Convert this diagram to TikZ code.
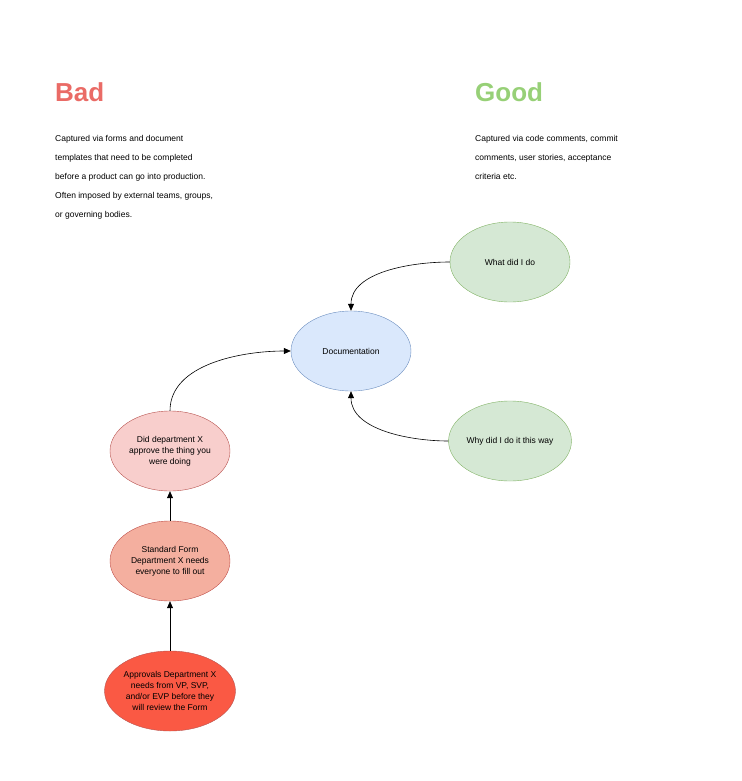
\documentclass[tikz,border=0pt]{standalone}
\usepackage{fontspec}
\setmainfont{Liberation Sans}
\usetikzlibrary{arrows.meta,shapes.geometric}
\definecolor{bfill}{HTML}{DAE8FC}\definecolor{bdraw}{HTML}{6C8EBF}
\definecolor{gfill}{HTML}{D5E8D4}\definecolor{gdraw}{HTML}{82B366}
\definecolor{r1}{HTML}{F8CECC}\definecolor{r1d}{HTML}{B85450}
\definecolor{r2}{HTML}{F4AF9F}\definecolor{r2d}{HTML}{C0504A}
\definecolor{r3}{HTML}{FA5944}\definecolor{r3d}{HTML}{B85450}
\definecolor{badc}{HTML}{EA6B66}\definecolor{goodc}{HTML}{97D077}
\begin{document}
\begin{tikzpicture}[x=1pt,y=-1pt,
 el/.style={ellipse,minimum width=120pt,minimum height=80pt,inner sep=0pt,align=center,font=\fontsize{8.5}{11}\selectfont},
 arr/.style={-{Triangle[length=7pt,width=6pt]},black,line width=0.6pt},
 para/.style={anchor=north west,align=left,font=\fontsize{8.5}{19}\selectfont,inner sep=0pt},
 head/.style={anchor=west,inner sep=0pt,font=\fontsize{26}{30}\selectfont\bfseries}]
\useasboundingbox (0,0) rectangle (741,781);
\node[el,fill=bfill,draw=bdraw] (doc) at (351,351) {Documentation};
\node[el,fill=gfill,draw=gdraw] (what) at (510,262) {What did I do};
\node[el,fill=gfill,draw=gdraw] (why) at (510,441) {Why did I do it this way};
\node[el,fill=r1,draw=r1d] (did) at (170,451) {Did department X\\approve the thing you\\were doing};
\node[el,fill=r2,draw=r2d] (std) at (170,561) {Standard Form\\Department X needs\\everyone to fill out};
\node[el,fill=r3,draw=r3d] (appr) at (170,691) {Approvals Department X\\needs from VP, SVP,\\and/or EVP before they\\will review the Form};
\draw[arr] (what.west) to[out=180,in=90,looseness=0.9] (doc.north);
\draw[arr] (why.west) to[out=180,in=-90,looseness=0.9] (doc.south);
\draw[arr] (did.north) to[out=90,in=180,looseness=0.9] (doc.west);
\draw[arr] (std.north) -- (did.south);
\draw[arr] (appr.north) -- (std.south);
\node[head,text=badc] (bad) at (55,92) {Bad};
\node[head,text=goodc] (good) at (475,92) {Good};
\node[para] (bt) at (55,135) {Captured via forms and document\\templates that need to be completed\\before a product can go into production.\\Often imposed by external teams, groups,\\or governing bodies.};
\node[para] (gt) at (475,135) {Captured via code comments, commit\\comments, user stories, acceptance\\criteria etc.};
\end{tikzpicture}
\end{document}
